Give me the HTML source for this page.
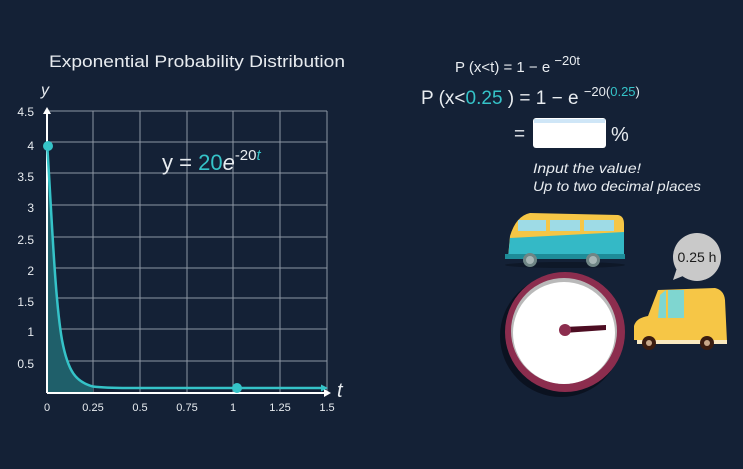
<!DOCTYPE html>
<html><head><meta charset="utf-8"><style>
html,body{margin:0;padding:0;background:#142136;}
body{width:743px;height:464px;overflow:hidden;font-family:"Liberation Sans",sans-serif;}
</style></head><body>
<svg width="743" height="464" viewBox="0 0 743 464" xmlns="http://www.w3.org/2000/svg" font-family="Liberation Sans, sans-serif">
<rect width="743" height="464" fill="#142136"/>
<text x="49" y="67" fill="#e8ecf0" font-size="17" textLength="296" lengthAdjust="spacingAndGlyphs">Exponential Probability Distribution</text>
<text x="41" y="95" fill="#e8ecf0" font-size="16" font-style="italic">y</text>
<g stroke="#8d96a4" stroke-width="1" fill="none">
<path d="M93 111V393M140 111V393M187 111V393M233 111V393M280 111V393M327 111V393"/>
<path d="M47 111H327M47 142H327M47 173H327M47 205H327M47 237H327M47 268H327M47 298H327M47 329H327M47 361H327"/>
</g>
<path d="M47 142 C52 220 55 300 62 340 C68 372 76 382 93 386.5 L93 393 L47 393Z" fill="#1f5f6a"/>
<g stroke="#ffffff" stroke-width="2" fill="none"><path d="M47 393V113"/><path d="M47 393H325"/></g>
<path d="M47 107 L43 114 L51 114Z" fill="#fff"/>
<path d="M331 393 L324 389 L324 397Z" fill="#fff"/>
<path d="M47 142 C52 220 55 300 62 340 C68 372 76 382 93 386.5 C105 388 115 388 130 388 L322 388" fill="none" stroke="#35c3c8" stroke-width="2.5"/>
<path d="M328 388 L321 384.5 L321 391.5Z" fill="#35c3c8"/>
<circle cx="48" cy="146" r="5" fill="#35c3c8"/>
<circle cx="237" cy="388" r="5" fill="#35c3c8"/>
<g fill="#e8ecf0" font-size="12" text-anchor="end">
<text x="34" y="116">4.5</text><text x="34" y="150">4</text><text x="34" y="181">3.5</text><text x="34" y="212">3</text><text x="34" y="244">2.5</text><text x="34" y="275">2</text><text x="34" y="306">1.5</text><text x="34" y="336">1</text><text x="34" y="368">0.5</text>
</g>
<g fill="#e8ecf0" font-size="11" text-anchor="middle">
<text x="47" y="411">0</text><text x="93" y="411">0.25</text><text x="140" y="411">0.5</text><text x="187" y="411">0.75</text><text x="233" y="411">1</text><text x="280" y="411">1.25</text><text x="327" y="411">1.5</text>
</g>
<text x="337" y="397" fill="#e8ecf0" font-size="20" font-style="italic">t</text>
<text x="162" y="170" fill="#e8ecf0" font-size="22">y = <tspan fill="#35c3c8">20</tspan><tspan font-style="italic">e</tspan><tspan font-size="15" dy="-10">-20</tspan><tspan font-size="15" fill="#35c3c8" font-style="italic">t</tspan></text>
<text x="455" y="72" fill="#e8ecf0" font-size="15">P (x&lt;t) = 1 − e <tspan font-size="13" dy="-7">−20t</tspan></text>
<text x="421" y="104" fill="#e8ecf0" font-size="19">P (x&lt;<tspan fill="#35c3c8">0.25</tspan> ) = 1 − e <tspan font-size="13" dy="-8">−20(</tspan><tspan font-size="13" fill="#35c3c8">0.25</tspan><tspan font-size="13">)</tspan></text>
<text x="514" y="140" fill="#e8ecf0" font-size="19">=</text>
<rect x="533" y="118" width="73" height="30" rx="3" fill="#fff"/>
<rect x="534" y="119" width="71" height="4" fill="#cfe6f7"/>
<text x="611" y="141" fill="#e8ecf0" font-size="20">%</text>
<text x="533" y="173" fill="#e8ecf0" font-size="14" font-style="italic" textLength="108" lengthAdjust="spacingAndGlyphs">Input the value!</text>
<text x="533" y="191" fill="#e8ecf0" font-size="14" font-style="italic" textLength="168" lengthAdjust="spacingAndGlyphs">Up to two decimal places</text>
<!-- bus -->
<ellipse cx="565" cy="265" rx="60" ry="3" fill="#0e1828"/>
<path d="M508 258 L510 236 Q516 216 530 213 L618 215 Q624 216 624 224 L624 256 Z" fill="#f6c646"/>
<path d="M508 258 L510 238 L624 232 L624 256 Z" fill="#34b9c6"/>
<rect x="518" y="220" width="28" height="11" fill="#9edbe6"/><rect x="550" y="220" width="30" height="11" fill="#9edbe6"/><rect x="584" y="220" width="30" height="11" fill="#9edbe6"/>
<rect x="505" y="254" width="120" height="5" fill="#1e8c98"/>
<circle cx="530" cy="260" r="7" fill="#6f8585"/><circle cx="530" cy="260" r="4" fill="#a7b6b6"/>
<circle cx="593" cy="260" r="7" fill="#6f8585"/><circle cx="593" cy="260" r="4" fill="#a7b6b6"/>
<!-- clock -->
<circle cx="561" cy="336" r="61" fill="#0b1220"/>
<circle cx="565" cy="332" r="60" fill="#8c2d4e"/>
<circle cx="564" cy="331" r="53" fill="#b9b9b9"/>
<circle cx="564" cy="333" r="51" fill="#fff"/>
<path d="M564 327 L606 325 L606 330 L564 333Z" fill="#4d0d22"/>
<circle cx="565" cy="330" r="6" fill="#8c2d4e"/>
<!-- bubble -->
<circle cx="697" cy="257" r="24" fill="#c9c9c9"/>
<path d="M677 268 L673 280 L688 274Z" fill="#c9c9c9"/>
<text x="697" y="262" fill="#1a1a1a" font-size="14" text-anchor="middle">0.25 h</text>
<!-- van -->
<path d="M634 340 L634 326 Q636 318 648 316 L658 290 L715 288 Q724 290 725 300 L727 342 Z" fill="#f6c646"/>
<path d="M660 295 L666 290 L666 318 L658 318Z" fill="#7fd6d0"/><rect x="668" y="290" width="16" height="28" fill="#7fd6d0"/>
<rect x="637" y="340" width="90" height="4" fill="#fae9c0"/>
<circle cx="649" cy="343" r="7" fill="#3b1d10"/><circle cx="649" cy="343" r="3" fill="#c8a88a"/>
<circle cx="707" cy="343" r="7" fill="#3b1d10"/><circle cx="707" cy="343" r="3" fill="#c8a88a"/>
</svg>
</body></html>
